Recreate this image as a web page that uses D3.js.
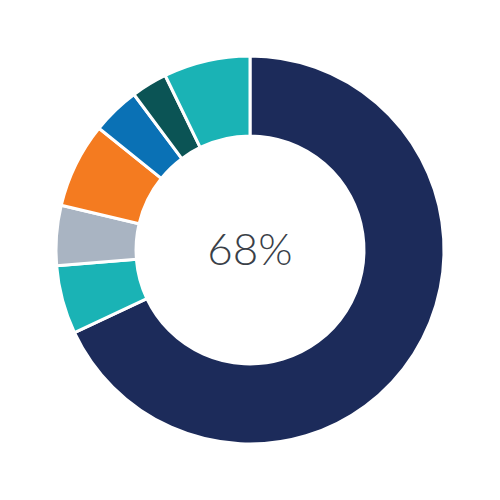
<!DOCTYPE html>
<html><head><meta charset="utf-8">
<script src="https://d3js.org/d3.v7.min.js"></script>
<style>body{margin:0;background:#fff}</style>
</head><body>
<script>
const categories = ["A","B","C","D","E","F","G"];
const values = [68, 5.7, 5.0, 7.1, 4.0, 3.0, 7.2];
const colors = ["#1c2b5a","#1ab3b5","#a9b4c2","#f47b20","#0a71b5","#0b5455","#1ab3b5"];
const centerLabel = "68%";

const svg = d3.select("body").append("svg").attr("width",500).attr("height",500);
const g = svg.append("g").attr("transform","translate(250,250)");
const pie = d3.pie().sort(null).value(d=>d)(values);
const arc = d3.arc().innerRadius(114).outerRadius(194);
g.selectAll("path").data(pie).join("path")
  .attr("d",arc).attr("fill",(d,i)=>colors[i])
  .attr("stroke","#fff").attr("stroke-width",3).attr("stroke-linejoin","round");
g.append("text").attr("text-anchor","middle").attr("dy","0.35em")
  .attr("font-family","Lato, sans-serif").attr("font-weight",300)
  .attr("font-size",44).attr("fill","#3a3f48").text(centerLabel);
</script>
</body></html>
